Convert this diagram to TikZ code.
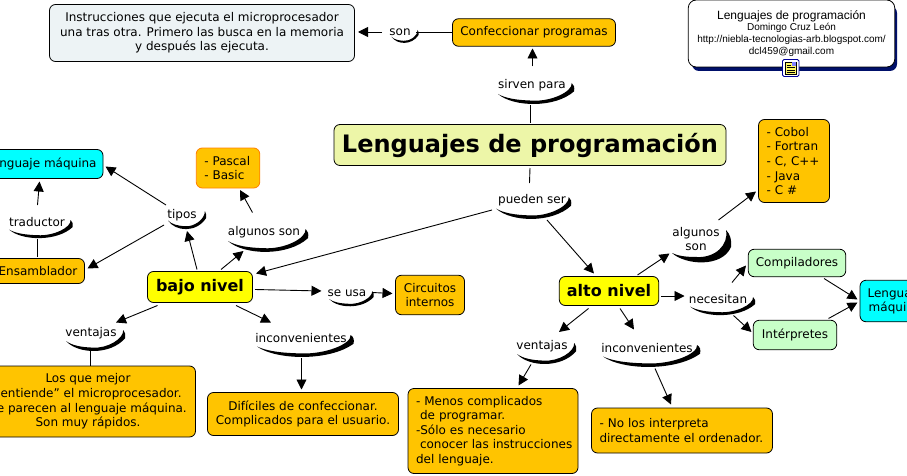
\documentclass[tikz,border=0pt]{standalone}
\usepackage{fontspec}
\setmainfont{DejaVu Sans}
\newfontfamily\arialf{Liberation Sans}
\usetikzlibrary{arrows.meta}
\definecolor{boxor}{HTML}{FFC400}
\definecolor{boxye}{HTML}{FFFF00}
\definecolor{boxgr}{HTML}{C8FFC8}
\definecolor{boxcy}{HTML}{00FFFF}
\definecolor{boxti}{HTML}{EDF6A8}
\definecolor{boxgy}{HTML}{EDF3F5}
\definecolor{navyshadow}{HTML}{00106A}
\tikzset{
  basebox/.style={draw=black,line width=0.8pt,rounded corners=6pt,inner sep=0pt,align=center,
     font=\fontsize{12}{14.6}\selectfont},
  orbox/.style={basebox,fill=boxor},
  lftbox/.style={orbox,align=left,inner xsep=8pt},
  lvlbox/.style={basebox,fill=boxye,font=\fontsize{16}{20}\selectfont\bfseries},
  grbox/.style={basebox,fill=boxgr},
  cybox/.style={basebox,fill=boxcy},
  linkword/.style={inner sep=0pt,align=center,font=\fontsize{12}{14.6}\selectfont},
  arr/.style={line width=0.9pt,-{Triangle[length=10pt,width=10pt]}},
  plain/.style={line width=0.9pt}
}
\newcommand{\cres}[4]{\begin{scope}[shift={(#1,#2)},xscale=#3,yscale=#4]
  \fill[black] (0,.5) .. controls (.2,1.1) and (.75,1.15) .. (1,.38)
     .. controls (1.01,.2) and (1,.08) .. (.97,0)
     .. controls (.98,.4) and (.7,.85) .. (.45,.8)
     .. controls (.25,.78) and (.1,.7) .. (0,.5) -- cycle;
\end{scope}}
\newcommand{\conn}[5][arr]{\draw[#1] ([shift={(#3)}]#2.center) -- ([shift={(#5)}]#4.center);}
\begin{document}
\begin{tikzpicture}[x=1pt,y=-1pt]
\useasboundingbox (0,0) rectangle (907,476);
\clip (0,0) rectangle (907,476);
\fill[white] (0,0) rectangle (907,476);
% crescents under the linking words
\cres{391.5}{30}{27}{13.5}
\cres{498}{83}{76}{22}
\cres{496}{197}{75}{23}
\cres{690}{297}{65}{19}
\cres{517}{343}{59}{22}
\cres{603}{345}{97}{23}
\cres{329}{291}{44.5}{16}
\cres{66}{330}{59}{22}
\cres{257}{335}{96.5}{23}
\cres{9}{220}{63.5}{19}
\cres{168}{211}{38}{19}
\cres{228}{229}{80}{24}
\fill[black] (672,253) .. controls (685,265) and (722,268) .. (731,247)
   .. controls (732,240) and (730,234) .. (726,230)
   .. controls (729,245) and (715,258) .. (697,257)
   .. controls (686,257) and (678,256) .. (672,253) -- cycle;
% legend shadow
\fill[navyshadow,rounded corners=7pt] (692,6) rectangle (897,71);
% nodes
\node[basebox,fill=boxgy,minimum width=305pt,minimum height=57pt] (instr) at (202,33)
  {Instrucciones que ejecuta el microprocesador\\una tras otra. Primero las busca en la memoria\\y después las ejecuta.};
\node[linkword] (son) at (400,32) {son};
\node[orbox,minimum width=163pt,minimum height=27.5pt] (conf) at (534,32.5) {Confeccionar programas};
\node[linkword] (sirven) at (532,85) {sirven para};
\node[basebox,fill=boxti,minimum width=392pt,minimum height=41pt,font=\fontsize{24}{30}\selectfont\bfseries] (main) at (530,145) {Lenguajes de programación};
\node[basebox,fill=white,minimum width=206.5pt,minimum height=67pt,rounded corners=8pt,
  font=\arialf\fontsize{10}{11.8}\selectfont] (legend) at (791.5,33.5)
  {{\fontsize{12}{13}\selectfont Lenguajes de programación}\\Domingo Cruz León\\http://niebla-tecnologias-arb.blogspot.com/\\dcl459@gmail.com};
\node[linkword] (pueden) at (532,200) {pueden ser};
\node[lftbox,text width=55pt,minimum height=83pt] (cobol) at (794,161)
  {- Cobol\\- Fortran\\- C, C++\\- Java\\- C \#};
\node[linkword] (alg2) at (696,239) {algunos\\son};
\node[grbox,minimum width=97.5pt,minimum height=27.5pt] (comp) at (797,263) {Compiladores};
\node[grbox,minimum width=83.5pt,minimum height=29.5pt] (interp) at (795,335) {Intérpretes};
\node[cybox,minimum width=70pt,minimum height=41.5pt] (lm2) at (895,301) {Lenguaje\\máquina};
\node[linkword] (nec) at (718,299) {necesitan};
\node[lvlbox,minimum width=99.5pt,minimum height=29pt] (alto) at (609,291) {alto nivel};
\node[linkword] (ven2) at (542,346) {ventajas};
\node[linkword] (inc2) at (647,348) {inconvenientes};
\node[lftbox,inner xsep=8pt,text width=154pt,minimum height=85pt] (venbox2) at (493,431)
  {- Menos complicados\\\hspace*{4pt}de programar.\\-Sólo es necesario\\\mbox{\hspace*{4pt}conocer las instrucciones}\\del lenguaje.};
\node[lftbox,text width=165pt,minimum height=45pt] (inbox2) at (682,430.5)
  {- No los interpreta\\directamente el ordenador.};
\node[lvlbox,minimum width=105pt,minimum height=31pt] (bajo) at (200,287) {bajo nivel};
\node[linkword] (seusa) at (347,293) {se usa};
\node[orbox,minimum width=69pt,minimum height=39.5pt] (circ) at (430,295) {Circuitos\\internos};
\node[linkword] (ven) at (91,333) {ventajas};
\node[linkword] (inc) at (301,338) {inconvenientes};
\node[orbox,minimum width=215pt,minimum height=71pt] (los) at (88,401.5)
  {Los que mejor\\"entiende" el microprocesador.\\Se parecen al lenguaje máquina.\\Son muy rápidos.};
\node[orbox,minimum width=191pt,minimum height=43pt] (dif) at (303,414)
  {Difíciles de confeccionar.\\Complicados para el usuario.};
\node[orbox,minimum width=93pt,minimum height=25pt] (ens) at (38,271) {Ensamblador};
\node[linkword] (trad) at (37,222) {traductor};
\node[cybox,minimum width=124pt,minimum height=29pt] (lm1) at (41,164) {Lenguaje máquina};
\node[linkword] (tipos) at (182,215) {tipos};
\node[linkword] (alg) at (264,232) {algunos son};
\node[lftbox,draw=orange,text width=47.5pt,minimum height=40pt] (pascal) at (228,168) {- Pascal\\- Basic};
% legend icon
\draw[fill=white,draw=blue!60!black,line width=0.8pt,rounded corners=1.5pt] (782.5,59.5) rectangle (799,76.5);
\fill[yellow!60!white,draw=black,line width=0.4pt] (785.5,62) rectangle (796,74);
\draw[line width=0.5pt] (786.5,65) -- (791,65) (786.5,67.5) -- (795,67.5) (786.5,70) -- (795,70) (786.5,72.5) -- (795,72.5);
\fill[blue!50] (791.5,62.5) rectangle (795.5,66);
% connectors
\conn{son}{-18,0}{instr}{156,-1}
\conn[plain]{conf}{-81.5,-.5}{son}{16,0}
\conn{sirven}{.5,-18.5}{conf}{-1.5,16}
\conn[plain]{main}{.5,-22}{sirven}{-1.5,20}
\conn[plain]{main}{0,23}{pueden}{-2.5,-17}
\conn{pueden}{-40,10}{bajo}{56,-13.5}
\conn{pueden}{15,20}{alto}{-15,-17.5}
\conn{bajo}{-3,-17.5}{tipos}{5,16}
\conn{tipos}{-16,-10}{lm1}{64.5,2.5}
\conn{tipos}{-18,10}{ens}{49.5,-2.5}
\conn{trad}{.5,-17}{lm1}{-1.5,17.5}
\conn[plain]{ens}{-.5,-14}{trad}{.5,17}
\conn{bajo}{21,-17.5}{alg}{-20.5,19}
\conn{alg}{-11.5,-19.5}{pascal}{12,22}
\conn{bajo}{55,2.5}{seusa}{-25.5,-2}
\conn{seusa}{25.5,-.5}{circ}{-37.5,-1.5}
\conn{bajo}{-42.5,18.5}{ven}{25,-10.5}
\conn{bajo}{36,18.5}{inc}{-30,-15.5}
\conn[plain]{ven}{-.5,18}{los}{2.5,-35.5}
\conn{inc}{.5,20}{dif}{-1.5,-24.5}
\conn{alto}{28.5,-16}{alg2}{-26.5,14.5}
\conn{alg2}{22.5,-19}{cobol}{-38,30.5}
\conn{alto}{52,5}{nec}{-33.5,-3}
\conn{nec}{14,-16.5}{comp}{-51,2.5}
\conn{nec}{15.5,16.5}{interp}{-43.5,-3}
\conn{comp}{27,15.5}{lm2}{-37.5,-1.5}
\conn{interp}{33.5,-16.5}{lm2}{-37.5,1.5}
\conn{alto}{-20.5,17.5}{ven2}{17,-14}
\conn{alto}{11,17.5}{inc2}{-13,-18.5}
\conn{ven2}{-11,18.5}{venbox2}{25.5,-45.5}
\conn{inc2}{8,20.5}{inbox2}{-11,-26}
\end{tikzpicture}
\end{document}
